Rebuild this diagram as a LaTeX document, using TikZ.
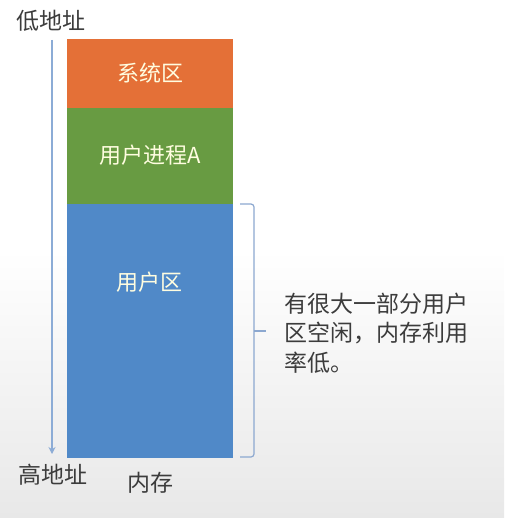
\documentclass[tikz,border=0pt]{standalone}
\usepackage{fontspec}
\setmainfont{Noto Sans CJK SC}
\usetikzlibrary{arrows.meta}
\definecolor{sysorange}{RGB}{228,112,55}
\definecolor{procgreen}{RGB}{104,155,66}
\definecolor{userblue}{RGB}{80,137,200}
\definecolor{axisblue}{RGB}{140,172,214}
\definecolor{bracecol}{RGB}{140,168,208}
\definecolor{labelgray}{RGB}{60,60,60}
\tikzset{
  membox/.style={draw=none, minimum width=166pt, inner sep=0pt, outer sep=0pt, anchor=north west},
  boxtext/.style={font=\fontsize{22}{26}\selectfont, text=white!88!yellow},
  sidetext/.style={font=\fontsize{23}{29.5}\selectfont, text=labelgray},
}
\begin{document}
\begin{tikzpicture}[x=1pt,y=-1pt]
\useasboundingbox (0,0) rectangle (504,518);
\fill[white] (0,0) rectangle (504,250);
\shade[top color=white,bottom color=black!9] (0,250) rectangle (504,518);

\node[membox, fill=sysorange, minimum height=69pt] (sys) at (67,39) {};
\node[membox, fill=procgreen, minimum height=96pt] (proc) at (67,108) {};
\node[membox, fill=userblue, minimum height=254pt] (user) at (67,204) {};

\node[boxtext] (syslab) at (150,73) {系统区};
\node[boxtext] (proclab) at (150,155) {用户进程A};
\node[boxtext] (userlab) at (149,282) {用户区};

\coordinate (atop) at (52,40);
\coordinate (abot) at (52,454);
\draw[axisblue, line width=1.2pt, -{Stealth[length=7pt,width=7pt]}] (atop) -- (abot);

\node[sidetext] (low) at (51,21) {低地址};
\node[sidetext] (high) at (53,475) {高地址};
\node[sidetext] (mem) at (150,483) {内存};

\coordinate (bt) at (240,204);
\coordinate (bb) at (240,457);
\coordinate (bm) at (254,331);
\coordinate (btip) at (266,331);
\draw[bracecol, line width=1.2pt, rounded corners=3pt] (bt) -- (254,204) -- (254,457) -- (bb);
\draw[bracecol, line width=1.2pt] (bm) -- (btip);

\node[sidetext, anchor=west, align=left] (note) at (281,333) {有很大一部分用户\\区空闲，内存利用\\率低。};
\end{tikzpicture}
\end{document}
